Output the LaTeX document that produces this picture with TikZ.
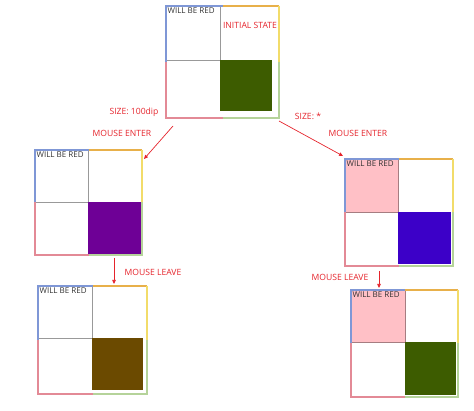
\documentclass[tikz,border=0pt]{standalone}
\usepackage{fontspec}
\setmainfont{Open Sans}
\usetikzlibrary{arrows.meta}

\definecolor{edgeblue}{HTML}{7F97D6}
\definecolor{edgeorange}{HTML}{E8B04A}
\definecolor{edgeyellow}{HTML}{F2DC6A}
\definecolor{edgegreen}{HTML}{B5D39A}
\definecolor{edgered}{HTML}{E38A96}
\definecolor{labelred}{HTML}{E5242C}
\definecolor{olive}{HTML}{3D5C00}
\definecolor{plum}{HTML}{6E0096}
\definecolor{indigo}{HTML}{3C00C8}
\definecolor{umber}{HTML}{6B4A00}
\definecolor{blush}{HTML}{FFC0C6}

\begin{document}
\begin{tikzpicture}[
    x=1pt, y=-1pt,
    panel/.style={rectangle, inner sep=0, outer sep=0, anchor=north west},
    cell/.style={rectangle, draw=gray!80, line width=0.7pt, inner sep=0, outer sep=0, anchor=north west},
    red cell/.style={cell, draw=black!35!blush, fill=blush},
    block/.style={rectangle, fill=#1, inner sep=0, outer sep=0, anchor=north west},
    caption/.style={font=\fontsize{8}{9}\selectfont, text=black!80, inner sep=1.5pt, anchor=north west},
    event/.style={font=\fontsize{8.6}{10}\selectfont, text=labelred, inner sep=0},
    transition/.style={-{Triangle[length=4pt, width=3.5pt]}, labelred, line width=0.7pt}
]
\useasboundingbox (0,0) rectangle (474,411);

% Initial state
\node[panel, minimum width=113, minimum height=112] (init) at (166,6) {};
\node[cell, minimum size=54] (init-tl) at (166,6) {};
\node[caption] (init-txt) at (init-tl.north west) {WILL BE RED};
\node[block=olive, minimum width=52, minimum height=51] (init-br) at (220,60) {};
\node[event] (init-lbl) at (250,25) {INITIAL STATE};

% Size 100dip, mouse enter
\node[panel, minimum width=107, minimum height=105] (dipin) at (35,150) {};
\node[cell, minimum width=53, minimum height=52] (dipin-tl) at (35,150) {};
\node[caption] (dipin-txt) at (dipin-tl.north west) {WILL BE RED};
\node[block=plum, minimum width=53, minimum height=52] (dipin-br) at (88,202) {};

% Size *, mouse enter
\node[panel, minimum width=108, minimum height=107] (starin) at (345,159) {};
\node[red cell, minimum width=53, minimum height=53] (starin-tl) at (345,159) {};
\node[caption] (starin-txt) at (starin-tl.north west) {WILL BE RED};
\node[block=indigo, minimum width=53, minimum height=52] (starin-br) at (398,212) {};

% Size 100dip, mouse leave
\node[panel, minimum width=109, minimum height=108] (dipout) at (38,286) {};
\node[cell, minimum width=54, minimum height=52] (dipout-tl) at (38,286) {};
\node[caption] (dipout-txt) at (dipout-tl.north west) {WILL BE RED};
\node[block=umber, minimum width=51, minimum height=52] (dipout-br) at (92,338) {};

% Size *, mouse leave
\node[panel, minimum width=107, minimum height=107] (starout) at (351,290) {};
\node[red cell, minimum width=54, minimum height=52] (starout-tl) at (351,290) {};
\node[caption] (starout-txt) at (starout-tl.north west) {WILL BE RED};
\node[block=olive, minimum width=51, minimum height=53] (starout-br) at (405,342) {};

% Coloured frames
\foreach \p in {init, dipin, starin, dipout, starout} {
    \draw[edgeblue, line width=1.2pt] (\p.west) -- (\p.north west) -- (\p.north);
    \draw[edgeorange, line width=1.2pt] (\p.north) -- (\p.north east);
    \draw[edgeyellow, line width=1.2pt] (\p.north east) -- (\p.east);
    \draw[edgegreen, line width=1.2pt] (\p.east) -- (\p.south east) -- (\p.south);
    \draw[edgered, line width=1.2pt] (\p.south) -- (\p.south west) -- (\p.west);
}

% Transitions
\coordinate (left-from) at ([shift={(7,8)}]init.south west);
\coordinate (left-to) at ([shift={(2,9)}]dipin.north east);
\coordinate (right-from) at ([shift={(0,3)}]init.south east);
\coordinate (right-to) at ([shift={(-2,-3)}]starin.north west);
\coordinate (dip-from) at ([shift={(79,3)}]dipin.south west);
\coordinate (dip-to) at ([shift={(76,-2)}]dipout.north west);
\coordinate (star-from) at ([shift={(28,-19)}]starout.north west);
\coordinate (star-to) at ([shift={(28,-2)}]starout.north west);

\draw[transition] (left-from) -- (left-to);
\draw[transition] (right-from) -- (right-to);
\draw[transition] (dip-from) -- (dip-to);
\draw[transition] (star-from) -- (star-to);

% Event labels
\node[event] (dip-size) at (134,112) {SIZE: 100dip};
\node[event] (dip-enter) at (122,133) {MOUSE ENTER};
\node[event] (star-size) at (308,116) {SIZE: *};
\node[event] (star-enter) at (358,133) {MOUSE ENTER};
\node[event] (dip-leave) at (153,272) {MOUSE LEAVE};
\node[event] (star-leave) at (340,277) {MOUSE LEAVE};

\end{tikzpicture}
\end{document}
